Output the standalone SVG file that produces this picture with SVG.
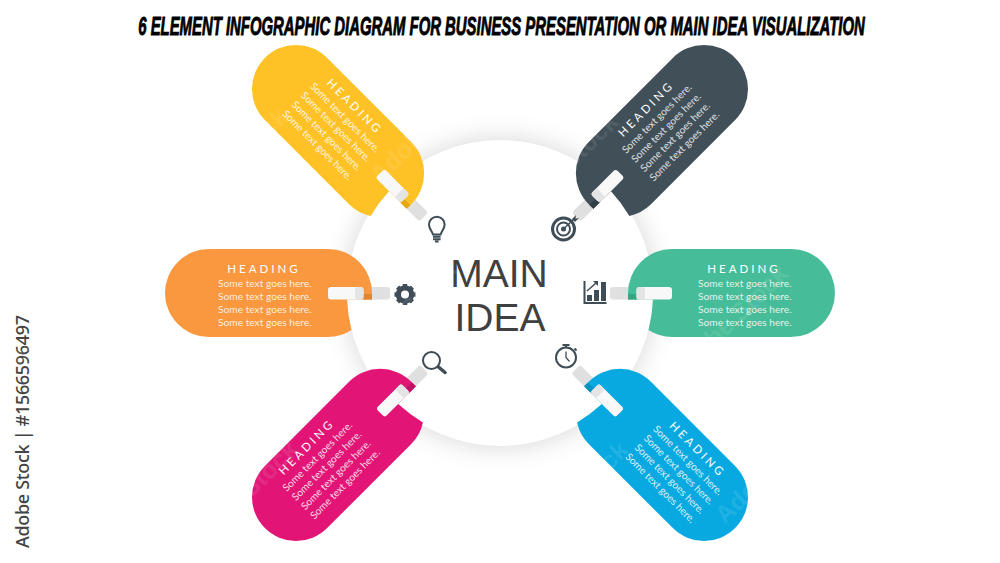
<svg xmlns="http://www.w3.org/2000/svg" width="1000" height="563" viewBox="0 0 1000 563">
<style>
.t{font-family:Lato,"Liberation Sans",sans-serif;font-size:10.2px;fill:#fff;fill-opacity:.85}
.h{font-family:Lato,"Liberation Sans",sans-serif;font-size:11.5px;letter-spacing:3px;fill:#fff;text-anchor:middle}
.m{font-family:"Liberation Sans",Arial,sans-serif;font-size:39px;fill:#404040;text-anchor:middle}
.ic{fill:none;stroke:#3f4d57}
.if{fill:#3f4d57}
.wm{font-family:"Liberation Sans",sans-serif;font-weight:700;font-size:25px;fill:#fff;fill-opacity:.09}
</style>
<defs>
<filter id="b" x="-30%" y="-30%" width="160%" height="160%"><feGaussianBlur stdDeviation="12"/></filter>
<filter id="ws" x="-10%" y="-40%" width="120%" height="180%"><feDropShadow dx="0" dy="0" stdDeviation="2" flood-color="#000" flood-opacity=".05"/></filter>
<path id="pl" d="M209 249H328A44 44 0 0 1 372 293V299.500H347A153 153 0 0 0 351.500 330A44 44 0 0 1 328 337H209A44 44 0 0 1 209 249Z"/>
<path id="pr" d="M791 249H672A44 44 0 0 0 628 293V299.500H653A153 153 0 0 1 648.500 330A44 44 0 0 0 672 337H791A44 44 0 0 0 791 249Z"/>
<rect id="gl" x="360" y="287" width="30" height="12.500" rx="3" fill="#e0e0e0"/>
<rect id="gr" x="610" y="287" width="30" height="12.500" rx="3" fill="#e0e0e0"/>
<g id="tl"><rect x="328" y="287" width="35.500" height="12.500" rx="3" fill="#f8f8f8"/><rect x="355" y="287" width="8.500" height="12.500" rx="3" fill="#e4e4e4"/></g>
<g id="tr"><rect x="636.500" y="287" width="35.500" height="12.500" rx="3" fill="#f8f8f8"/><rect x="636.500" y="287" width="8.500" height="12.500" rx="3" fill="#e4e4e4"/></g>
<g id="xl"><text class="h" x="264" y="273">HEADING</text><text class="t" x="218" y="287">Some text goes here.</text><text class="t" x="218" y="300">Some text goes here.</text><text class="t" x="218" y="313">Some text goes here.</text><text class="t" x="218" y="326">Some text goes here.</text></g>
<g id="xr"><text class="h" x="744" y="273">HEADING</text><text class="t" x="698" y="287">Some text goes here.</text><text class="t" x="698" y="300">Some text goes here.</text><text class="t" x="698" y="313">Some text goes here.</text><text class="t" x="698" y="326">Some text goes here.</text></g>
</defs>
<rect width="1000" height="563" fill="#fff"/>
<g id="center">
<circle cx="500" cy="293" r="155" fill="#000" fill-opacity=".14" filter="url(#b)"/>
<circle cx="500" cy="293" r="153" fill="#fff"/>
<text class="m" x="499" y="287">MAIN</text>
<text class="m" x="500" y="331">IDEA</text>
</g>
<g id="node-orange">
<use href="#gl"/><use href="#pl" fill="#f9983f"/>
<rect x="363.500" y="294" width="8.500" height="5.500" fill="#e0852f"/><use href="#tl"/>
<use href="#xl"/>
</g>
<g id="node-green">
<use href="#gr"/><use href="#pr" fill="#46bd98"/>
<rect x="628" y="294" width="8.500" height="5.500" fill="#37a583"/><use href="#tr"/>
<use href="#xr"/>
</g>
<g id="node-yellow" transform="rotate(45 500 293) translate(2.500 0)">
<use href="#gl"/><use href="#pl" fill="#ffc226"/>
<rect x="363.500" y="294" width="8.500" height="5.500" fill="#e5a814"/><use href="#tl"/>
<use href="#xl" transform="translate(-1 -5)"/>
</g>
<g id="node-pink" transform="rotate(-45 500 293) translate(2.500 0)">
<use href="#gl"/><use href="#pl" fill="#e21576"/>
<rect x="363.500" y="294" width="8.500" height="5.500" fill="#c21062"/><use href="#tl"/>
<use href="#xl" transform="translate(-12 -4)"/>
</g>
<g id="node-dark" transform="rotate(-45 500 293) translate(-2.500 0)">
<use href="#gr"/><use href="#pr" fill="#414f58"/>
<rect x="628" y="294" width="8.500" height="5.500" fill="#333f47"/><use href="#tr"/>
<use href="#xr" transform="translate(-8 -3)"/>
</g>
<g id="node-blue" transform="rotate(45 500 293) translate(-2.500 0)">
<use href="#gr"/><use href="#pr" fill="#08a9e0"/>
<rect x="628" y="294" width="8.500" height="5.500" fill="#0792c3"/><use href="#tr"/>
<use href="#xr" transform="translate(9 -5)"/>
</g>
<g id="icon-bulb" class="ic" stroke-width="2"><path d="M433 234.500C432 231 429 229 429 224.500A7.800 7.800 0 0 1 444.600 224.500C444.600 229 441.600 231 440.600 234.500Z"/><path d="M433 236.800H440.600M433 239.300H440.600M435 241.600H438.600"/></g>
<g id="icon-target"><circle cx="563.500" cy="229" r="11" class="ic" stroke-width="3"/><circle cx="563.500" cy="229" r="6.500" class="ic" stroke-width="2"/><circle cx="563.500" cy="229" r="2.500" class="if"/><path d="M563.500 229L574 219" class="ic" stroke-width="1.500"/><path d="M572 219L576 215L575.500 218.500L579 218L575 222Z" class="if"/></g>
<g id="icon-gear"><circle cx="405" cy="294.500" r="6.500" class="ic" stroke-width="5.500"/><path d="M405 284V305M394.500 294.500H415.500M397.600 287.100L412.400 301.900M412.400 287.100L397.600 301.900" class="ic" stroke-width="4.500"/><circle cx="405" cy="294.500" r="4" fill="#fff"/></g>
<g id="icon-chart"><path d="M584.500 281V303H606.500" class="ic" stroke-width="2"/><rect x="587" y="295" width="5" height="6" class="if"/><rect x="594" y="290" width="5" height="11" class="if"/><rect x="601" y="282" width="5" height="19" class="if"/><path d="M587 291L596 283" class="ic" stroke-width="1.500"/><path d="M593 281H598V286Z" class="if"/></g>
<g id="icon-mag"><circle cx="431.500" cy="360.500" r="8.500" class="ic" stroke-width="2"/><path d="M438.500 367L445 372.500" class="ic" stroke-width="3.500" stroke-linecap="round"/></g>
<g id="icon-watch"><circle cx="566" cy="357.500" r="10" class="ic" stroke-width="2"/><path d="M562.500 345H569.500M566 345V347.500M574.500 348.500L576.500 350.500" class="ic" stroke-width="2"/><path d="M566 351.500V357.500L569.500 361.500" class="ic" stroke-width="1.300"/></g>
<text id="title" transform="translate(501.500 35) scale(.596 1)" font-family="'Liberation Sans',sans-serif" font-weight="700" font-style="italic" font-size="25" stroke="#000" stroke-width=".9" text-anchor="middle">6 ELEMENT INFOGRAPHIC DIAGRAM FOR BUSINESS PRESENTATION OR MAIN IDEA VISUALIZATION</text>
<text id="credit" transform="translate(29 548) rotate(-90)" font-family="'Noto Sans','Open Sans',sans-serif" font-size="18" font-weight="500" fill="#444" textLength="233">Adobe Stock | #1566596497</text>
<g id="watermark" filter="url(#ws)">
<text class="wm" transform="translate(50 180) rotate(-44)">Adobe Stock</text>
<text class="wm" transform="translate(380 185) rotate(-44)">Adobe Stock</text>
<text class="wm" transform="translate(710 190) rotate(-44)">Adobe Stock</text>
<text class="wm" transform="translate(180 225) rotate(-44)">Adobe Stock</text>
<text class="wm" transform="translate(510 230) rotate(-44)">Adobe Stock</text>
<text class="wm" transform="translate(847 235) rotate(-44)">Adobe Stock</text>
<text class="wm" transform="translate(20 370) rotate(-44)">Adobe Stock</text>
<text class="wm" transform="translate(350 378) rotate(-44)">Adobe Stock</text>
<text class="wm" transform="translate(680 382) rotate(-44)">Adobe Stock</text>
<text class="wm" transform="translate(885 345) rotate(-44)">Adobe Stock</text>
<text class="wm" transform="translate(60 510) rotate(-44)">Adobe Stock</text>
<text class="wm" transform="translate(395 518) rotate(-44)">Adobe Stock</text>
<text class="wm" transform="translate(725 525) rotate(-44)">Adobe Stock</text>
<text class="wm" transform="translate(190 558) rotate(-44)">Adobe Stock</text>
<text class="wm" transform="translate(520 558) rotate(-44)">Adobe Stock</text>
<text class="wm" transform="translate(855 555) rotate(-44)">Adobe Stock</text>
</g>
</svg>
